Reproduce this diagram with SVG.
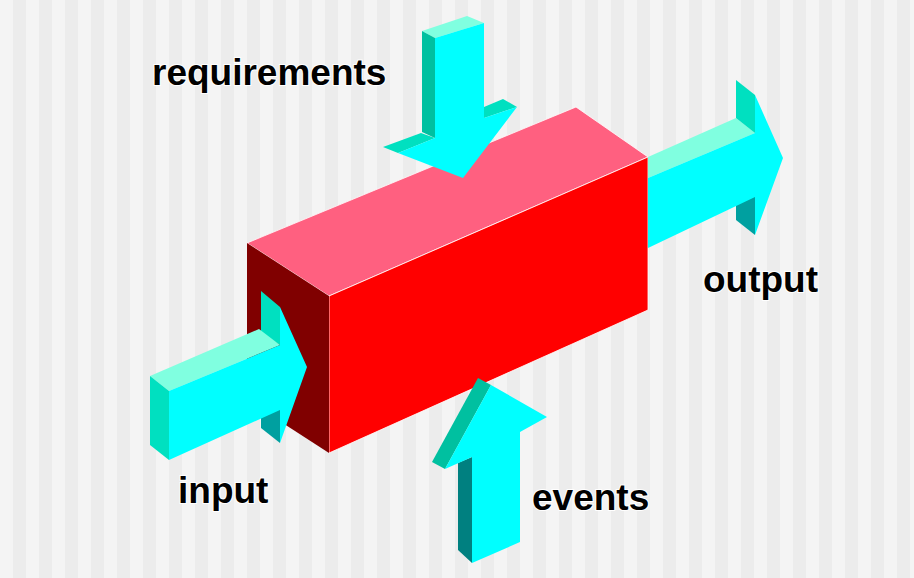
<svg xmlns="http://www.w3.org/2000/svg" width="914" height="578" viewBox="0 0 914 578">
<defs>
<pattern id="stripes" width="26" height="10" patternUnits="userSpaceOnUse">
<rect width="26" height="10" fill="#f4f4f4"/><rect x="13" width="13" height="10" fill="#ececec"/>
</pattern>
<style>
.c{fill:#00ffff}.l{fill:#80ffe0}.s{fill:#00e0c0}.s2{fill:#00c0a0}.d{fill:#00a0a0}.d2{fill:#008080}
.t{font-family:"Liberation Sans",Arial,sans-serif;font-weight:bold;font-size:37px;fill:#000;stroke:#fff;stroke-width:2;paint-order:stroke}
</style>
</defs>
<rect width="914" height="578" fill="url(#stripes)"/>
<g id="box">
<polygon points="247,243 576,107 648,157 329,296" fill="#ff6080" stroke="#fff" stroke-width="0.8"/>
<polygon points="329,296 648,157 648,310 329,453" fill="#ff0000" stroke="#fff" stroke-width="0.8"/>
<polygon points="247,243 329,296 329,453 247,400" fill="#800000"/>
</g>
<g id="requirements">
<polygon class="l" points="422,31 467,16 484,23 435,38"/>
<polygon class="s2" points="422,31 435,38 435,138 422,132"/>
<polygon class="s" points="383,147 421,133 435,138 398,153"/>
<polygon class="s" points="484,107 503,99 517,107 484,118"/>
<polygon class="c" points="435,38 484,23 484,118 517,107 463,178 398,153 435,138"/>
</g>
<g id="output">
<polygon class="l" points="648,157 736,118 755,133 648,178"/>
<polygon class="s" points="736,80 755,95 755,133 736,118"/>
<polygon class="d" points="736,197 755,190 755,235 736,220"/>
<polygon class="c" points="648,178 755,133 755,95 783,158 755,235 755,197 648,248"/>
</g>
<g id="input">
<polygon class="s" points="261,291 280,307 280,345 261,333"/>
<polygon class="d" points="261,408 280,400 280,443 261,428"/>
<polygon class="l" points="150,376 259,329 280,345 169,391"/>
<polygon class="s" points="150,376 169,391 169,460 150,445"/>
<polygon class="c" points="169,391 280,345 280,307 307,367 280,443 280,410 169,460"/>
</g>
<g id="events">
<polygon class="s2" points="478,378 491,385 445,469 432,462"/>
<polygon class="d2" points="458,463 472,457 472,563 458,550"/>
<polygon class="c" points="491,385 547,417 520,432 520,542 472,563 472,457 445,469"/>
</g>
<g id="labels">
<text class="t" x="152" y="85">requirements</text>
<text class="t" x="703" y="292">output</text>
<text class="t" x="178" y="503">input</text>
<text class="t" x="532" y="510">events</text>
</g>
</svg>
